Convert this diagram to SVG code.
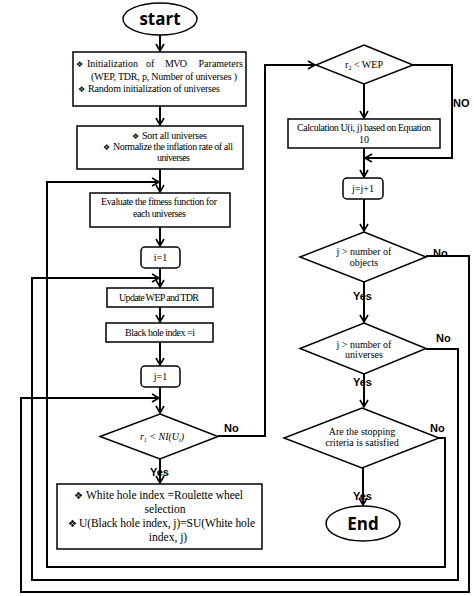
<svg xmlns="http://www.w3.org/2000/svg" width="474" height="596" viewBox="0 0 474 596">
<style>
.bx{fill:#fff;stroke:#000;stroke-width:1.5}
.ln{fill:none;stroke:#000;stroke-width:2}
.t{font-family:"Liberation Serif","Times New Roman",serif;font-size:10px;fill:#000}
.tb{font-family:"Liberation Serif","Times New Roman",serif;font-size:11.5px;fill:#000}
.lb{font-family:"Liberation Sans",Arial,sans-serif;font-size:11px;font-weight:bold;fill:#000}
.tt{font-family:"Open Sans","Liberation Sans",sans-serif;font-size:17px;font-weight:bold;fill:#000}
.sym{font-family:"DejaVu Sans",sans-serif}
</style>
<defs>
<marker id="ah" markerWidth="10" markerHeight="10" refX="8" refY="5" orient="auto" markerUnits="userSpaceOnUse">
<path d="M1,1 L8,5 L1,9" fill="none" stroke="#000" stroke-width="1.6"/>
</marker>
</defs>
<g id="connectors">
<path class="ln" d="M160,35 V51" marker-end="url(#ah)"/>
<path class="ln" d="M160,106 V125" marker-end="url(#ah)"/>
<path class="ln" d="M160,169 V192" marker-end="url(#ah)"/>
<path class="ln" d="M160,227 V246" marker-end="url(#ah)"/>
<path class="ln" d="M160,268 V287" marker-end="url(#ah)"/>
<path class="ln" d="M160,307 V322" marker-end="url(#ah)"/>
<path class="ln" d="M160,342 V365" marker-end="url(#ah)"/>
<path class="ln" d="M160,387 V413" marker-end="url(#ah)"/>
<path class="ln" d="M160,459 V483" marker-end="url(#ah)"/>
<path class="ln" d="M218,436 H265 V65 H315" marker-end="url(#ah)"/>
<path class="ln" d="M364,84 V118" marker-end="url(#ah)"/>
<path class="ln" d="M364,148 V177" marker-end="url(#ah)"/>
<path class="ln" d="M413,65 H452 V158 H365" marker-end="url(#ah)"/>
<path class="ln" d="M364,199 V231" marker-end="url(#ah)"/>
<path class="ln" d="M364,282 V322" marker-end="url(#ah)"/>
<path class="ln" d="M364,374 V407" marker-end="url(#ah)"/>
<path class="ln" d="M363,468 V505" marker-end="url(#ah)"/>
<path class="ln" d="M439,438 H445 V567 H47 V182 H159" marker-end="url(#ah)"/>
<path class="ln" d="M426,349 H458 V580 H32 V278 H159" marker-end="url(#ah)"/>
<path class="ln" d="M426,256 H469 V592 H21 V398 H159" marker-end="url(#ah)"/>
<text class="lb" x="224" y="432">No</text>
<text class="lb" x="453" y="107">NO</text>
<text class="lb" x="433" y="257">No</text>
<text class="lb" x="436" y="342">No</text>
<text class="lb" x="430" y="432">No</text>
<text class="lb" x="150" y="476">Yes</text>
<text class="lb" x="353" y="300">Yes</text>
<text class="lb" x="353" y="386">Yes</text>
<text class="lb" x="353" y="500">Yes</text>
</g>
<g id="start">
<ellipse class="bx" cx="160" cy="19" rx="37" ry="16" stroke-width="2"/>
<text class="tt" x="160" y="25" text-anchor="middle">start</text>
</g>
<g id="init">
<rect class="bx" x="73" y="52" width="173" height="54"/>
<text class="t" x="76" y="67"><tspan class="sym" font-size="8">❖</tspan></text>
<text class="t" x="87" y="67" textLength="51">Initialization</text>
<text class="t" x="146" y="67">of</text>
<text class="t" x="165" y="67" textLength="22">MVO</text>
<text class="t" x="243" y="67" text-anchor="end">Parameters</text>
<text class="t" x="91" y="80" textLength="146">(WEP, TDR, p, Number of universes )</text>
<text class="t" x="78" y="92"><tspan class="sym" font-size="8">❖</tspan></text>
<text class="t" x="88" y="92" textLength="132">Random initialization of universes</text>
</g>
<g id="sort">
<rect class="bx" x="77" y="126" width="166" height="43"/>
<text class="t" x="132" y="139"><tspan class="sym" font-size="8">❖</tspan></text>
<text class="t" x="142" y="139" textLength="65">Sort all universes</text>
<text class="t" x="103" y="150"><tspan class="sym" font-size="8">❖</tspan></text>
<text class="t" x="113" y="150" textLength="120">Normalize the inflation rate of all</text>
<text class="t" x="157" y="161" textLength="33">universes</text>
</g>
<g id="evaluate">
<rect class="bx" x="90" y="193" width="140" height="34"/>
<text class="t" x="101" y="205" textLength="116">Evaluate the fitness function for</text>
<text class="t" x="133" y="217" textLength="53">each universes</text>
</g>
<g id="i1">
<rect class="bx" x="141" y="247" width="39" height="21" rx="4"/>
<text class="t" x="160.5" y="261" text-anchor="middle">i=1</text>
</g>
<g id="update">
<rect class="bx" x="107" y="288" width="106" height="19"/>
<text class="t" x="119" y="301" textLength="80">Update WEP and TDR</text>
</g>
<g id="blackhole">
<rect class="bx" x="106" y="323" width="107" height="19"/>
<text class="t" x="125" y="336" textLength="70">Black hole index =i</text>
</g>
<g id="j1">
<rect class="bx" x="141" y="366" width="39" height="21" rx="4"/>
<text class="t" x="160.5" y="380" text-anchor="middle">j=1</text>
</g>
<g id="dec-r1">
<polygon class="bx" points="160,414 218,436.5 160,459 100,436.5"/>
<text class="t" x="162" y="440" text-anchor="middle" font-size="9" font-style="italic">r<tspan font-size="6" dy="2">1</tspan><tspan dy="-2"> &lt; NI(U</tspan><tspan font-size="6" dy="2">i</tspan><tspan dy="-2">)</tspan></text>
</g>
<g id="whitehole">
<rect class="bx" x="57" y="484" width="205" height="65"/>
<text class="tb" x="74" y="499"><tspan class="sym" font-size="10">❖</tspan></text>
<text class="tb" x="86" y="499" textLength="157">White hole index =Roulette wheel</text>
<text class="tb" x="165" y="512.5" text-anchor="middle">selection</text>
<text class="tb" x="68" y="526.5"><tspan class="sym" font-size="10">❖</tspan></text>
<text class="tb" x="79" y="526.5" textLength="176">U(Black hole index, j)=SU(White hole</text>
<text class="tb" x="168" y="541" text-anchor="middle">index, j)</text>
</g>
<g id="dec-r2">
<polygon class="bx" points="364,45 413,65 364,84 316,65"/>
<text class="t" x="364" y="68" text-anchor="middle" font-size="9">r<tspan font-size="6" dy="2">2</tspan><tspan dy="-2"> &lt; WEP</tspan></text>
</g>
<g id="calc">
<rect class="bx" x="288" y="119" width="152" height="29"/>
<text class="t" x="297" y="131" textLength="134">Calculation U(i, j) based on Equation</text>
<text class="t" x="364" y="143" text-anchor="middle">10</text>
</g>
<g id="jinc">
<rect class="bx" x="343" y="178" width="40" height="21" rx="4"/>
<text class="t" x="363" y="192" text-anchor="middle">j=j+1</text>
</g>
<g id="dec-objects">
<polygon class="bx" points="364,232 426,257 364,282 300,257"/>
<text class="t" x="364" y="255" text-anchor="middle">j &gt; number of</text>
<text class="t" x="364" y="266" text-anchor="middle">objects</text>
</g>
<g id="dec-universes">
<polygon class="bx" points="364,323 426,348.5 364,374 300,348.5"/>
<text class="t" x="364" y="348" text-anchor="middle">j &gt; number of</text>
<text class="t" x="364" y="358" text-anchor="middle">universes</text>
</g>
<g id="dec-stop">
<polygon class="bx" points="362,408 439,438 362,468 284,438"/>
<text class="t" x="362" y="435" text-anchor="middle">Are the stopping</text>
<text class="t" x="362" y="446" text-anchor="middle">criteria is satisfied</text>
</g>
<g id="end">
<ellipse class="bx" cx="363" cy="523.5" rx="37" ry="17.5" stroke-width="2"/>
<text class="tt" x="363" y="530" text-anchor="middle">End</text>
</g>
</svg>
